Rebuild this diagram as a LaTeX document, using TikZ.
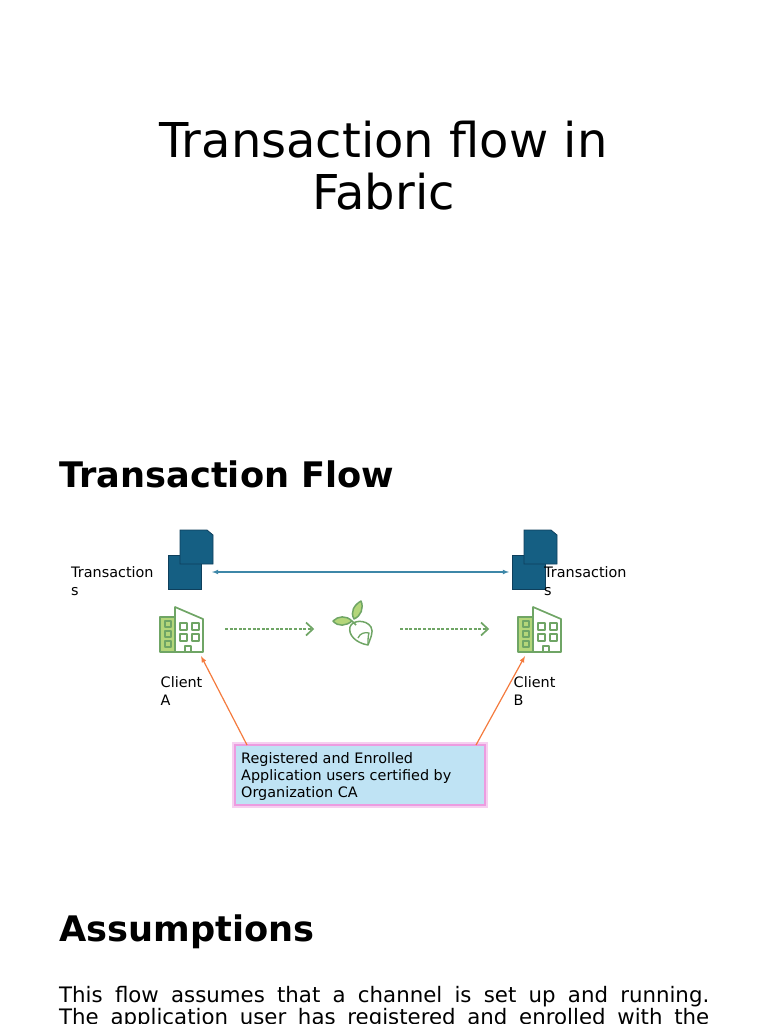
\documentclass[tikz,border=0pt]{standalone}
\usepackage{fontspec}
\setmainfont{DejaVu Sans}
\definecolor{sheetblue}{HTML}{155F83}
\definecolor{sheetedge}{HTML}{0E3F5C}
\definecolor{linkblue}{HTML}{3E87A8}
\definecolor{leafgreen}{HTML}{6FA565}
\definecolor{lightgreen}{HTML}{B4D67A}
\definecolor{flameorange}{HTML}{F47B3E}
\definecolor{boxblue}{HTML}{BFE3F4}
\definecolor{boxpink}{HTML}{EC9CE0}
\definecolor{glowpink}{HTML}{F6CFF0}
\tikzset{
  label/.style={font=\fontsize{14.4}{18}\selectfont, align=left, anchor=north west, inner sep=0pt, text width=90pt},
  heading/.style={font=\bfseries\fontsize{35.2}{40}\selectfont, anchor=west, inner sep=0pt},
  sheet/.style={draw=sheetedge, fill=sheetblue, line width=.8pt},
  icon/.style={draw=leafgreen, line width=1.7pt, line join=round},
  iconfill/.style={icon, fill=lightgreen},
  flow/.style={draw=leafgreen, line width=1.5pt, dash pattern=on 3pt off 1.6pt},
  flowhead/.style={draw=leafgreen, line width=1.7pt},
}
% two sheets, back one first, (0,0) is the top left of the back sheet
\newcommand{\sheets}[2]{
  \begin{scope}[shift={(#1,#2)}]
    \draw[sheet] (0,0) rectangle (33,34);
    \draw[sheet] (12,-25) -- (39,-25) -- (45,-20) -- (45,9) -- (12,9) -- cycle;
  \end{scope}
}
% office block, (0,0) is the lower left corner
\newcommand{\block}[2]{
  \begin{scope}[shift={(#1,#2)}]
    \draw[iconfill] (0,0) rectangle (15,-35);
    \foreach \y in {-31,-21,-11} \draw[icon, line width=1.4pt] (5,\y) rectangle (11,\y+6);
    \draw[icon] (15,0) -- (15,-45) -- (43,-33) -- (43,0) -- cycle;
    \foreach \x in {20,32} \foreach \y in {-29,-18} \draw[icon, line width=1.4pt] (\x,\y) rectangle (\x+7,\y+7);
    \draw[icon, line width=1.4pt] (25,0) rectangle (31,-6);
  \end{scope}
}
\begin{document}
\begin{tikzpicture}[x=1pt,y=-1pt]
  \useasboundingbox (0,0) rectangle (768,1024);
  \node[font=\fontsize{48}{52}\selectfont, align=center, inner sep=0pt] (Title) at (383.5,165.5) {Transaction flow in\\Fabric};
  \node[heading] (Flow) at (59,474.5) {Transaction Flow};
  \node[heading] (Assume) at (59,932) {Assumptions};

  \sheets{168}{555}
  \sheets{512}{555}
  \coordinate (DocA) at (212,572);
  \coordinate (DocB) at (509,572);
  \draw[linkblue, line width=1.1pt, <->, >=latex] (DocA) -- (DocB);
  \node[label] (TxA) at (71,566) {Transaction\\s};
  \node[label] (TxB) at (544,566) {Transaction\\s};

  \block{160}{652}
  \block{518}{652}
  \node[label] (ClientA) at (160.5,676) {Client\\A};
  \node[label] (ClientB) at (513.5,676) {Client\\B};

  % plant in the middle
  \draw[iconfill, line width=1.5pt] (333,621) .. controls (338,616) and (346,615) .. (352,621) .. controls (346,626) and (338,627) .. (333,621) -- cycle;
  \draw[iconfill, line width=1.5pt] (354,619) .. controls (350,612) and (354,605) .. (361,601) .. controls (364,608) and (361,616) .. (354,619) -- cycle;
  \draw[icon, line width=1.5pt] (352,621) -- (356,625);
  \draw[icon, line width=1.5pt] (368,645) .. controls (356,643) and (348,635) .. (350,627) .. controls (352,620) and (366,619) .. (371,627) .. controls (374,632) and (370,639) .. (368,645) -- cycle;
  \draw[icon, line width=1.3pt] (358,638) .. controls (360,633) and (365,632) .. (369,633) .. controls (368,636) and (368,640) .. (368,645);

  \coordinate (FlowA) at (225,629);
  \coordinate (FlowB) at (400,629);
  \coordinate (HeadA) at (313,629);
  \coordinate (HeadB) at (488,629);
  \draw[flow] (FlowA) -- (HeadA);
  \draw[flow] (FlowB) -- (HeadB);
  \draw[flowhead] (306,622.5) -- (313,629) -- (306,635.5);
  \draw[flowhead] (481,622.5) -- (488,629) -- (481,635.5);

  \draw[glowpink, line width=6pt] (235,745) rectangle (485,805);
  \node[draw=boxpink, fill=boxblue, line width=2.4pt, minimum width=250pt, minimum height=60pt, inner sep=0pt] (Box) at (360,775) {};
  \node[font=\fontsize{14.4}{17.3}\selectfont, align=left, anchor=north west, inner sep=0pt] (BoxText) at (241,752) {Registered and Enrolled\\Application users certified by\\Organization CA};
  \coordinate (BoxA) at (247,745);
  \coordinate (BoxB) at (476,745);
  \coordinate (IconA) at (201,656);
  \coordinate (IconB) at (525,656);
  \draw[flameorange, line width=1.2pt, ->, >=latex] (BoxA) -- (IconA);
  \draw[flameorange, line width=1.2pt, ->, >=latex] (BoxB) -- (IconB);

  \node[font=\fontsize{21.3}{22.3}\selectfont, anchor=north west, inner sep=0pt, align=left] (Body) at (59,986) {\makebox[650pt][s]{This flow assumes that a channel is set up and running.}\\\makebox[650pt][s]{The application user has registered and enrolled with the}};
\end{tikzpicture}
\end{document}
